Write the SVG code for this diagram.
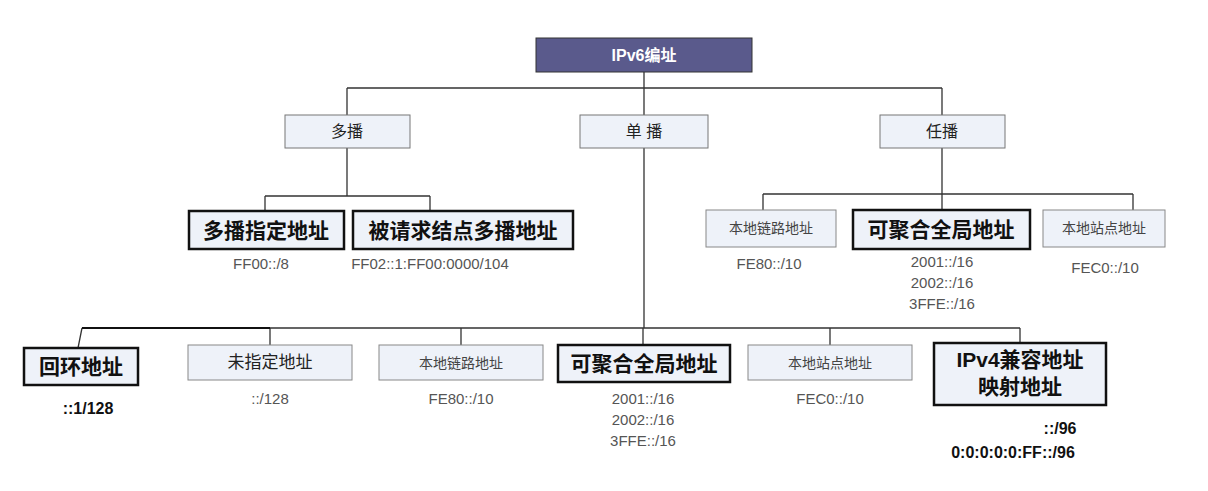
<svg xmlns="http://www.w3.org/2000/svg" width="1208" height="491" viewBox="0 0 1208 491">
<style>
text{font-family:"Liberation Sans","Noto Sans CJK SC",sans-serif;text-anchor:middle}
.bold rect{fill:#eef2f9;stroke:#111;stroke-width:2.5}
.bold text{font-size:21px;fill:#111;font-weight:bold}
.light rect{fill:#eef2f9;stroke:#888;stroke-width:1}
.light text{font-size:14px;fill:#444}
.mid rect{fill:#eef2f9;stroke:#777;stroke-width:1}
.mid text{font-size:16px;fill:#222}
.lbl{font-size:15px;fill:#555}
.lblb{font-size:16px;fill:#111;font-weight:bold}
#connectors path{fill:none;stroke:#333;stroke-width:1.3}
</style>
<g id="connectors">
<path d="M644 72V115M347 88H942M347 88V115M942 88V115"/>
<path d="M347 148V196M265 196H430M265 196V211M430 196V211"/>
<path d="M942 148V194M763 194H1133M763 194V210M942 194V210M1133 194V210"/>
<path d="M644 148V328M82 328H1020M82 328L78 348M270 328V345M461 328V345M643 328V345M830 328V345M1020 328V343" />
<path d="M82 328H270" style="stroke-width:2.2;stroke:#111"/>
</g>
<g id="root"><rect x="536" y="38" width="216" height="34" fill="#5a5a8c" stroke="#333"/><text x="644" y="61" font-size="16" font-weight="bold" fill="#fff">IPv6编址</text></g>
<g id="multicast" class="mid"><rect x="285" y="115" width="125" height="33"/><text x="347" y="137">多播</text></g>
<g id="unicast" class="mid"><rect x="580" y="115" width="128" height="33"/><text x="644" y="137">单 播</text></g>
<g id="anycast" class="mid"><rect x="880" y="115" width="125" height="33"/><text x="942" y="137">任播</text></g>
<g id="m1" class="bold"><rect x="189" y="211" width="155" height="38"/><text x="266" y="238">多播指定地址</text></g>
<g id="m2" class="bold"><rect x="353" y="211" width="220" height="38"/><text x="463" y="238">被请求结点多播地址</text></g>
<text class="lbl" x="261" y="269">FF00::/8</text>
<text class="lbl" x="430" y="269">FF02::1:FF00:0000/104</text>
<g id="a1" class="light"><rect x="706" y="210" width="130" height="37"/><text x="771" y="233">本地链路地址</text></g>
<g id="a2" class="bold"><rect x="853" y="210" width="177" height="39"/><text x="941" y="237">可聚合全局地址</text></g>
<g id="a3" class="light"><rect x="1043" y="210" width="122" height="37"/><text x="1104" y="233">本地站点地址</text></g>
<text class="lbl" x="769" y="269">FE80::/10</text>
<text class="lbl" x="942" y="267">2001::/16</text>
<text class="lbl" x="942" y="288">2002::/16</text>
<text class="lbl" x="942" y="309">3FFE::/16</text>
<text class="lbl" x="1105" y="273">FEC0::/10</text>
<g id="u1" class="bold"><rect x="24" y="348" width="114" height="37"/><text x="81" y="374">回环地址</text></g>
<g id="u2" class="light"><rect x="188" y="345" width="164" height="35"/><text x="270" y="368" style="font-size:17px;fill:#222">未指定地址</text></g>
<g id="u3" class="light"><rect x="379" y="345" width="164" height="35"/><text x="461" y="368">本地链路地址</text></g>
<g id="u4" class="bold"><rect x="558" y="345" width="172" height="37"/><text x="644" y="371">可聚合全局地址</text></g>
<g id="u5" class="light"><rect x="748" y="345" width="164" height="35"/><text x="830" y="368">本地站点地址</text></g>
<g id="u6" class="bold"><rect x="934" y="343" width="172" height="62"/><text x="1020" y="367">IPv4兼容地址</text><text x="1020" y="394">映射地址</text></g>
<text class="lblb" x="88" y="414">::1/128</text>
<text class="lbl" x="270" y="404">::/128</text>
<text class="lbl" x="461" y="404">FE80::/10</text>
<text class="lbl" x="643" y="404">2001::/16</text>
<text class="lbl" x="643" y="425">2002::/16</text>
<text class="lbl" x="643" y="446">3FFE::/16</text>
<text class="lbl" x="830" y="404">FEC0::/10</text>
<text class="lblb" x="1060" y="434">::/96</text>
<text class="lblb" x="1013" y="458">0:0:0:0:0:FF::/96</text>
</svg>
